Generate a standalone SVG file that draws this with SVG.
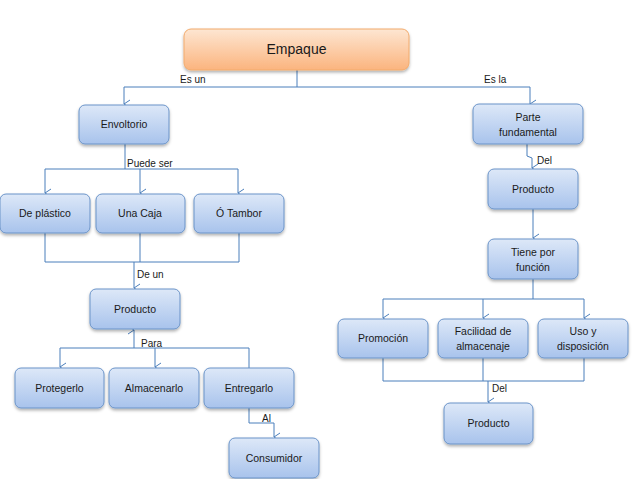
<svg xmlns="http://www.w3.org/2000/svg" width="638" height="479" viewBox="0 0 638 479">
<defs>
<linearGradient id="gb" x1="0" y1="0" x2="0" y2="1">
<stop offset="0" stop-color="#dde8f8"/>
<stop offset="1" stop-color="#a8c3ec"/>
</linearGradient>
<linearGradient id="go" x1="0" y1="0" x2="0" y2="1">
<stop offset="0" stop-color="#fde6d2"/>
<stop offset="1" stop-color="#fbb47e"/>
</linearGradient>
<filter id="sh" x="-10%" y="-10%" width="120%" height="140%">
<feDropShadow dx="0" dy="2" stdDeviation="1.5" flood-color="#000" flood-opacity="0.3"/>
</filter>
<marker id="ar" viewBox="0 0 10 10" refX="5" refY="9" markerWidth="10" markerHeight="10" markerUnits="userSpaceOnUse" orient="auto-start-reverse">
<path d="M1,3 L5,9 L9,3" fill="none" stroke="#4a7ebb" stroke-width="1"/>
</marker>
</defs>
<style>
.b{fill:url(#gb);stroke:#6a93c8;stroke-width:1;filter:url(#sh)}
.o{fill:url(#go);stroke:#f2ab6d;stroke-width:1;filter:url(#sh)}
.t{font-family:"Liberation Sans",Arial,sans-serif;font-size:10.5px;fill:#1a1a1a;text-anchor:middle}
.l{font-family:"Liberation Sans",Arial,sans-serif;font-size:10px;fill:#1a1a1a}
.c{fill:none;stroke:#4a7ebb;stroke-width:1}
</style>
<rect width="638" height="479" fill="#ffffff"/>
<g id="connectors">
<path class="c" d="M297,70 V87"/>
<path class="c" d="M124,87 H530"/>
<path class="c" d="M124,87 V104" marker-end="url(#ar)"/>
<path class="c" d="M530,87 V104" marker-end="url(#ar)"/>
<path class="c" d="M125,144 V169"/>
<path class="c" d="M45,169 H238"/>
<path class="c" d="M45,169 V193" marker-end="url(#ar)"/>
<path class="c" d="M140,169 V193" marker-end="url(#ar)"/>
<path class="c" d="M238,169 V193" marker-end="url(#ar)"/>
<path class="c" d="M45,233 V262 H239 V233"/>
<path class="c" d="M140,233 V262"/>
<path class="c" d="M134,262 V288" marker-end="url(#ar)"/>
<path class="c" d="M134,348 V330" marker-end="url(#ar)"/>
<path class="c" d="M60,348 H249 V368"/>
<path class="c" d="M60,348 V367" marker-end="url(#ar)"/>
<path class="c" d="M155,348 V367" marker-end="url(#ar)"/>
<path class="c" d="M249,408 V423 H274 V437" marker-end="url(#ar)"/>
<path class="c" d="M527,144 V156 L532,158 V168" marker-end="url(#ar)"/>
<path class="c" d="M533,209 V238" marker-end="url(#ar)"/>
<path class="c" d="M533,279 V299"/>
<path class="c" d="M383,299 H584"/>
<path class="c" d="M383,299 V318" marker-end="url(#ar)"/>
<path class="c" d="M483,299 V318" marker-end="url(#ar)"/>
<path class="c" d="M584,299 V318" marker-end="url(#ar)"/>
<path class="c" d="M383,358 V381 H584 V358"/>
<path class="c" d="M483,358 V381"/>
<path class="c" d="M488,381 V402" marker-end="url(#ar)"/>
<text class="l" x="180" y="83">Es un</text>
<text class="l" x="484" y="83">Es la</text>
<text class="l" x="127" y="167">Puede ser</text>
<text class="l" x="137" y="278">De un</text>
<text class="l" x="141" y="347">Para</text>
<text class="l" x="262" y="422">Al</text>
<text class="l" x="537" y="164">Del</text>
<text class="l" x="492" y="392">Del</text>
</g>
<g id="n-empaque"><rect class="o" x="184" y="29" width="225" height="41" rx="7"/><text class="t" x="296.5" y="54" style="font-size:14px">Empaque</text></g>
<g id="n-envoltorio"><rect class="b" x="79" y="105" width="90" height="39" rx="6"/><text class="t" x="124" y="128">Envoltorio</text></g>
<g id="n-plastico"><rect class="b" x="0" y="194" width="90" height="39" rx="6"/><text class="t" x="45" y="217">De plástico</text></g>
<g id="n-caja"><rect class="b" x="96" y="194" width="89" height="39" rx="6"/><text class="t" x="140" y="217">Una Caja</text></g>
<g id="n-tambor"><rect class="b" x="194" y="194" width="90" height="39" rx="6"/><text class="t" x="239" y="217">Ó Tambor</text></g>
<g id="n-producto1"><rect class="b" x="90" y="289" width="90" height="40" rx="6"/><text class="t" x="135" y="313">Producto</text></g>
<g id="n-protegerlo"><rect class="b" x="15" y="368" width="89" height="40" rx="6"/><text class="t" x="59.5" y="392">Protegerlo</text></g>
<g id="n-almacenarlo"><rect class="b" x="109" y="368" width="90" height="40" rx="6"/><text class="t" x="154" y="392">Almacenarlo</text></g>
<g id="n-entregarlo"><rect class="b" x="204" y="368" width="90" height="40" rx="6"/><text class="t" x="249" y="392">Entregarlo</text></g>
<g id="n-consumidor"><rect class="b" x="229" y="438" width="90" height="40" rx="6"/><text class="t" x="274" y="462">Consumidor</text></g>
<g id="n-parte"><rect class="b" x="473" y="104" width="110" height="40" rx="6"/><text class="t" x="528" y="121">Parte</text><text class="t" x="528" y="136">fundamental</text></g>
<g id="n-producto2"><rect class="b" x="488" y="169" width="90" height="40" rx="6"/><text class="t" x="533" y="193">Producto</text></g>
<g id="n-funcion"><rect class="b" x="488" y="239" width="90" height="40" rx="6"/><text class="t" x="533" y="256">Tiene por</text><text class="t" x="533" y="271">función</text></g>
<g id="n-promocion"><rect class="b" x="338" y="319" width="90" height="39" rx="6"/><text class="t" x="383" y="342">Promoción</text></g>
<g id="n-facilidad"><rect class="b" x="438" y="319" width="90" height="39" rx="6"/><text class="t" x="483" y="335">Facilidad de</text><text class="t" x="483" y="350">almacenaje</text></g>
<g id="n-uso"><rect class="b" x="538" y="319" width="90" height="39" rx="6"/><text class="t" x="583" y="335">Uso y</text><text class="t" x="583" y="350">disposición</text></g>
<g id="n-producto3"><rect class="b" x="444" y="403" width="89" height="41" rx="6"/><text class="t" x="488.5" y="427">Producto</text></g>
</svg>
